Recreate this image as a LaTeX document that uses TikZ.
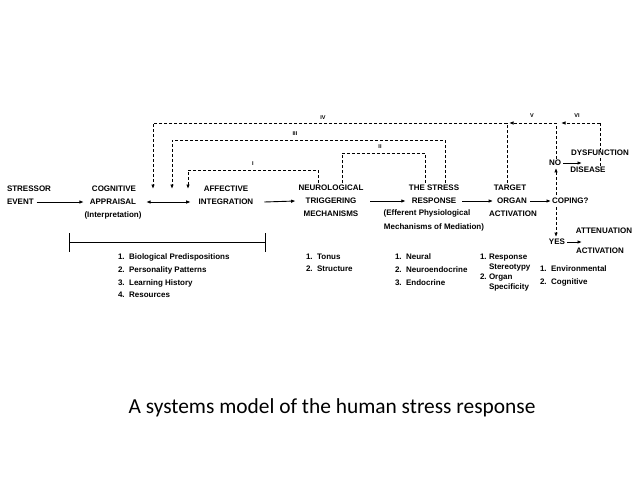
\documentclass[tikz,border=0pt]{standalone}
\usepackage{fontspec}
\setmainfont{Liberation Sans}
\newfontfamily\capfont{Carlito}
\usetikzlibrary{arrows.meta}
\begin{document}
\begin{tikzpicture}[x=1pt,y=-1pt,
 lbl/.style={inner sep=0pt, outer sep=0pt, font=\bfseries\fontsize{8}{9}\selectfont, text height=5.8pt, text depth=0pt},
 item/.style={lbl, anchor=west},
 num/.style={inner sep=0pt, font=\bfseries\fontsize{5.5}{6}\selectfont},
 arr/.style={line width=0.9pt, -{Latex[length=4.5pt,width=3.5pt]}},
 darr/.style={line width=0.9pt, {Latex[length=4.5pt,width=3.5pt]}-{Latex[length=4.5pt,width=3.5pt]}},
 fb/.style={line width=0.9pt, dash pattern=on 3pt off 2pt},
 fba/.style={fb, -{Latex[length=4.5pt,width=3.5pt]}},
 capstyle/.style={inner sep=0pt, font=\capfont\fontsize{21.4}{24}\selectfont}
]
\useasboundingbox[fill=white] (0,0) rectangle (638,479);

% main chain
\node[lbl, anchor=west] (stressor) at (7,189) {STRESSOR};
\node[lbl, anchor=west] (event) at (7,202) {EVENT};
\node[lbl] (cognitive) at (114,189) {COGNITIVE};
\node[lbl] (appraisal) at (113,202) {APPRAISAL};
\node[lbl] (interp) at (113,215) {(Interpretation)};
\node[lbl] (affective) at (226,189) {AFFECTIVE};
\node[lbl] (integration) at (226,202) {INTEGRATION};
\node[lbl] (neuro) at (331,188) {NEUROLOGICAL};
\node[lbl] (trigger) at (331,201) {TRIGGERING};
\node[lbl] (mech) at (331,214) {MECHANISMS};
\node[lbl] (thestress) at (434,188) {THE STRESS};
\node[lbl] (response) at (434,201) {RESPONSE};
\node[lbl] (efferent) at (427,213) {(Efferent Physiological};
\node[lbl] (mediation) at (434,227) {Mechanisms of Mediation)};
\node[lbl] (target) at (510,188) {TARGET};
\node[lbl] (organ) at (512,201) {ORGAN};
\node[lbl] (activation) at (513,214) {ACTIVATION};
\node[lbl, anchor=west] (coping) at (552,201) {COPING?};
\node[lbl] (no) at (555,163) {NO};
\node[lbl] (yes) at (557,242) {YES};
\node[lbl] (disease) at (588,170) {DISEASE};
\node[lbl] (atten) at (604,231) {ATTENUATION};
\node[lbl] (activ) at (600,251) {ACTIVATION};

% coordinates
\coordinate (vx) at (556,0);
\coordinate (jVI) at (556,123);
\coordinate (jV) at (507,123);
\coordinate (cVI) at (600,123);
\coordinate (tVI) at (561,123);
\coordinate (tV) at (509,123);
\coordinate (cIV) at (153,123);
\coordinate (tIV) at (153,189);
\coordinate (c3r) at (445,140);
\coordinate (c3l) at (172,140);
\coordinate (t3) at (172,189);
\coordinate (c1r) at (318,170);
\coordinate (c1l) at (188,170);
\coordinate (t1) at (188,189);
\coordinate (c2l) at (342,153);
\coordinate (c2r) at (425,153);
\coordinate (noend) at (582,163);
\coordinate (yesend) at (582,242);

% feedback loops
\draw[fb] ([yshift=1pt]disease.north -| cVI) -- (cVI);
\draw[fba] (cVI) -- (tVI);
\node[lbl, fill=white] (dysf) at (600,153) {DYSFUNCTION};
\draw[fba] ([yshift=1.5pt]no.north -| vx) -- (jVI) -- (tV);
\draw[fb] ([yshift=2pt]target.north -| jV) -- (jV);
\draw[fba] (jV) -- (cIV) -- (tIV);
\draw[fba] ([yshift=2pt]thestress.north -| c3r) -- (c3r) -- (c3l) -- (t3);
\draw[fba] ([yshift=2pt]neuro.north -| c1r) -- (c1r) -- (c1l) -- (t1);
\draw[fb] ([yshift=2pt]neuro.north -| c2l) -- (c2l) -- (c2r) -- ([yshift=2pt]thestress.north -| c2r);

\node[num] (lIV) at (323,118) {IV};
\node[num] (lIII) at (295,134) {III};
\node[num] (lII) at (380,147) {II};
\node[num] (lI) at (253,164) {I};
\node[num] (lV) at (532,116) {V};
\node[num] (lVI) at (577,116) {VI};

% forward arrows
\draw[arr] ([xshift=3pt]event.east) -- ([xshift=-6pt]appraisal.west);
\draw[darr] ([xshift=10pt]appraisal.east) -- ([xshift=-8pt]integration.west);
\draw[arr] ([xshift=11pt]integration.east) -- ([xshift=-10pt]trigger.west);
\draw[arr] ([xshift=14pt]trigger.east) -- ([xshift=-6pt]response.west);
\draw[arr] ([xshift=6pt]response.east) -- ([xshift=-4pt]organ.west);
\draw[arr] ([xshift=3pt]organ.east) -- ([xshift=-1pt]coping.west);
\draw[fba] ([yshift=3pt]coping.north -| vx) -- ([yshift=-2pt]no.south -| vx);
\draw[fba] ([yshift=-3pt]coping.south -| vx) -- ([yshift=2pt]yes.north -| vx);
\draw[arr] ([xshift=2pt]no.east) -- (noend);
\draw[arr] ([xshift=2pt]yes.east) -- (yesend);

% bracket
\draw[line width=0.9pt] (69,242) -- (265,242);
\draw[line width=0.9pt] (69,233) -- (69,252);
\draw[line width=0.9pt] (265,233) -- (265,252);

% lists
\node[item] (bio) at (118,257) {1.\ \ Biological Predispositions};
\node[item] (pers) at (118,270) {2.\ \ Personality Patterns};
\node[item] (learn) at (118,283) {3.\ \ Learning History};
\node[item] (res) at (118,295) {4.\ \ Resources};
\node[item] (tonus) at (306,257) {1.\ \ Tonus};
\node[item] (struct) at (306,269) {2.\ \ Structure};
\node[item] (neural) at (395,257) {1.\ \ Neural};
\node[item] (neuroendo) at (395,270) {2.\ \ Neuroendocrine};
\node[item] (endo) at (395,283) {3.\ \ Endocrine};
\node[item] (n1) at (480,257) {1.};
\node[item] (respst) at (489,257) {Response};
\node[item] (stereo) at (489,267) {Stereotypy};
\node[item] (n2) at (480,277) {2.};
\node[item] (organsp) at (489,277) {Organ};
\node[item] (specif) at (489,287) {Specificity};
\node[item] (env) at (540,269) {1.\ \ Environmental};
\node[item] (cogn) at (540,282) {2.\ \ Cognitive};

% caption
\node[capstyle] (caption) at (332,408) {A systems model of the human stress response};
\end{tikzpicture}
\end{document}
